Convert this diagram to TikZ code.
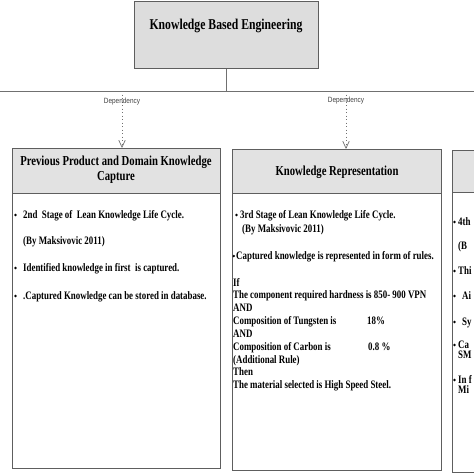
\documentclass[tikz,border=0pt]{standalone}
\usepackage{fontspec}
\usetikzlibrary{arrows.meta}
\newfontfamily\kbserif{Liberation Serif}[FakeStretch=0.78]
\newfontfamily\kbsans{Liberation Sans}[FakeStretch=0.85]
\definecolor{boxline}{HTML}{5E5E5E}
\definecolor{hdrfill}{HTML}{E2E2E2}
\definecolor{topfill}{HTML}{DDDDDD}
\definecolor{conline}{HTML}{707070}
\tikzset{
  x=1pt, y=-1pt,
  panel/.style={draw=boxline, line width=0.9pt, fill=white, inner sep=0pt, anchor=north west},
  hdrbox/.style={draw=boxline, line width=0.9pt, fill=hdrfill, inner sep=0pt, anchor=north west},
  topbox/.style={draw=boxline, line width=1.1pt, fill=topfill, inner sep=0pt, anchor=north west,
    minimum width=184pt, minimum height=67pt},
  titletxt/.style={font=\kbserif\bfseries\fontsize{15}{18}\selectfont, inner sep=0pt, align=center},
  hdrtxt/.style={font=\kbserif\bfseries\fontsize{13.7}{15}\selectfont, inner sep=0pt, align=center},
  bodytxt/.style={font=\kbserif\bfseries\fontsize{11.4}{13}\selectfont, inner sep=0pt, anchor=base west},
  deptxt/.style={font=\kbsans\fontsize{7.6}{9}\selectfont, text=black!75, inner sep=0pt},
  conn/.style={draw=conline, line width=0.9pt},
  depline/.style={draw=conline, line width=0.7pt, dash pattern=on 0.9pt off 2.6pt,
    -{Straight Barb[length=7pt,width=6.5pt,line width=0.7pt]}},
  bul/.style={fill=black},
}
\begin{document}
\begin{tikzpicture}
\useasboundingbox (0,0) rectangle (474,474);
\clip (0,0) rectangle (474,474);

% top box
\node[topbox] (kbe) at (134,0.8) {};
\node[titletxt] (kbet) at (226,26) {Knowledge Based Engineering};

% connectors
\coordinate (hl) at (0,91);
\coordinate (hr) at (474,91);
\draw[conn] (hl) -- (hr);
\draw[conn] (kbe.south) -- (kbe.south |- hl);

% panels
\node[panel, minimum width=208pt, minimum height=320pt] (lbox) at (12,148) {};
\node[hdrbox, minimum width=208pt, minimum height=45pt] (lhead) at (12,148) {};
\node[panel, minimum width=209pt, minimum height=321pt] (mbox) at (232,149) {};
\node[hdrbox, minimum width=209pt, minimum height=44pt] (mhead) at (232,149) {};
\node[panel, minimum width=210pt, minimum height=322pt] (rbox) at (452,150) {};
\node[hdrbox, minimum width=210pt, minimum height=42pt] (rhead) at (452,150) {};

% dependencies
\coordinate (d1) at (122,91);
\coordinate (d2) at (346,91);
\draw[depline] (d1) -- (d1 |- lbox.north);
\draw[depline] (d2) -- (d2 |- mbox.north);
\node[deptxt] (d1t) at (122,101.5) {Dependency};
\node[deptxt] (d2t) at (346,100.5) {Dependency};

% headers
\node[hdrtxt] (lht) at (116,170) {Previous Product and Domain Knowledge\\Capture};
\node[hdrtxt] (mht) at (337,172) {Knowledge Representation};

% left body
\fill[bul] (15.5,215) circle (1.4);
\node[bodytxt] (l1) at (23,218.5) {2nd\ \ Stage of\ \ Lean Knowledge Life Cycle.};
\node[bodytxt] (l2) at (23,244.5) {(By Maksivovic 2011)};
\fill[bul] (15.5,268) circle (1.4);
\node[bodytxt] (l3) at (23,271.5) {Identified knowledge in first\ \ is captured.};
\fill[bul] (15.5,296) circle (1.4);
\node[bodytxt] (l4) at (23,299.5) {.Captured Knowledge can be stored in database.};

% middle body
\fill[bul] (236.5,215) circle (1.3);
\node[bodytxt] (m1) at (240,218.5) {3rd Stage of Lean Knowledge Life Cycle.};
\node[bodytxt] (m2) at (242,232.5) {(By Maksivovic 2011)};
\fill[bul] (233.8,256) circle (1.3);
\node[bodytxt] (m3) at (236,259.5) {Captured knowledge is represented in form of rules.};
\node[bodytxt] (m4) at (233,286.5) {If};
\node[bodytxt] (m5) at (233,298.5) {The component required hardness is 850- 900 VPN};
\node[bodytxt] (m6) at (233,311.4) {AND};
\node[bodytxt] (m7) at (233,324.3) {Composition of Tungsten is};
\node[bodytxt] (m7b) at (367,324.3) {18\%};
\node[bodytxt] (m8) at (233,337.2) {AND};
\node[bodytxt] (m9) at (233,350.1) {Composition of Carbon is};
\node[bodytxt] (m9b) at (368,350.1) {0.8 \%};
\node[bodytxt] (m10) at (233,363) {(Additional Rule)};
\node[bodytxt] (m11) at (233,375.9) {Then};
\node[bodytxt] (m12) at (233,388.8) {The material selected is High Speed Steel.};

% right body (only the part the picture shows)
\fill[bul] (454.5,222) circle (1.3);
\node[bodytxt] (r1) at (458,225.5) {4th};
\node[bodytxt] (r2) at (458,249.5) {(B};
\fill[bul] (454.5,271) circle (1.3);
\node[bodytxt] (r3) at (458,274.5) {Thi};
\fill[bul] (454.5,296) circle (1.3);
\node[bodytxt] (r4) at (462,299.5) {Ai};
\fill[bul] (454.5,322) circle (1.3);
\node[bodytxt] (r5) at (462,325.5) {Sy};
\fill[bul] (454.5,345) circle (1.3);
\node[bodytxt] (r6) at (458,348.5) {Ca};
\node[bodytxt] (r7) at (458,358.5) {SM};
\fill[bul] (454.5,380) circle (1.3);
\node[bodytxt] (r8) at (458,383.5) {In f};
\node[bodytxt] (r9) at (458,393.5) {Mi};
\end{tikzpicture}
\end{document}
